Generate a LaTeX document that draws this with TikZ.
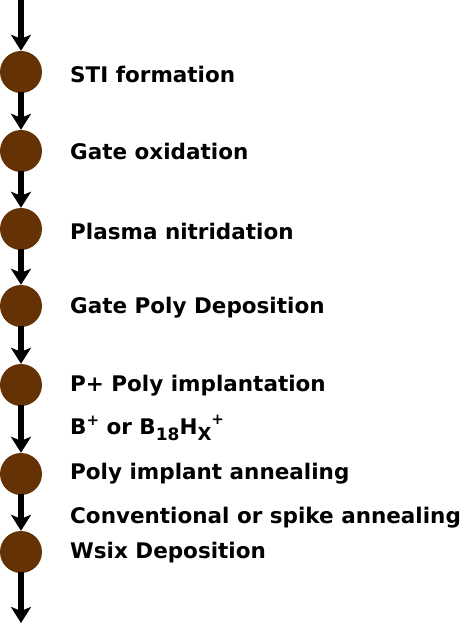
\documentclass[tikz,border=0pt]{standalone}
\usepackage{fontspec}
\setmainfont{DejaVu Sans}
\usetikzlibrary{arrows.meta}
\definecolor{dotbrown}{RGB}{100,50,4}
\begin{document}
\begin{tikzpicture}[x=1pt,y=1pt,
  dot/.style={circle,fill=dotbrown,minimum size=42pt,inner sep=0pt},
  lbl/.style={anchor=west,inner sep=0pt,font=\fontsize{21.5}{24}\selectfont\bfseries},
  flow/.style={line width=5.5pt,-{Stealth[width=20pt,length=16pt,inset=4pt]},shorten <=-1pt}]
\useasboundingbox (0,0) rectangle (474,-628);
\coordinate (top) at (21,0);
\coordinate (bot) at (21,-623);
\node[dot] (c1) at (21,-72) {};
\node[dot] (c2) at (21,-151) {};
\node[dot] (c3) at (21,-229) {};
\node[dot] (c4) at (21,-306) {};
\node[dot] (c5) at (21,-385) {};
\node[dot] (c6) at (21,-474) {};
\node[dot] (c7) at (21,-552) {};
\draw[flow] (top) -- (c1);
\draw[flow] (c1) -- (c2);
\draw[flow] (c2) -- (c3);
\draw[flow] (c3) -- (c4);
\draw[flow] (c4) -- (c5);
\draw[flow] (c5) -- (c6);
\draw[flow] (c6) -- (c7);
\draw[flow] (c7) -- (bot);
\node[lbl] (t1) at (70,-74) {STI formation};
\node[lbl] (t2) at (70,-151) {Gate oxidation};
\node[lbl] (t3) at (70,-231) {Plasma nitridation};
\node[lbl] (t4) at (70,-308) {Gate Poly Deposition};
\node[lbl] (t5) at (70,-386) {P+ Poly implantation};
\node[lbl] (t6) at (70,-428) {B\raisebox{0.4em}{\fontsize{15}{15}\selectfont +} or B\raisebox{-0.3em}{\fontsize{17}{17}\selectfont 18}H\raisebox{-0.3em}{\fontsize{18}{18}\selectfont X}\raisebox{0.45em}{\fontsize{15}{15}\selectfont +}};
\node[lbl] (t7) at (70,-474) {Poly implant annealing};
\node[lbl] (t8) at (70,-518) {Conventional or spike annealing};
\node[lbl] (t9) at (70,-553) {Wsix Deposition};
\end{tikzpicture}
\end{document}
